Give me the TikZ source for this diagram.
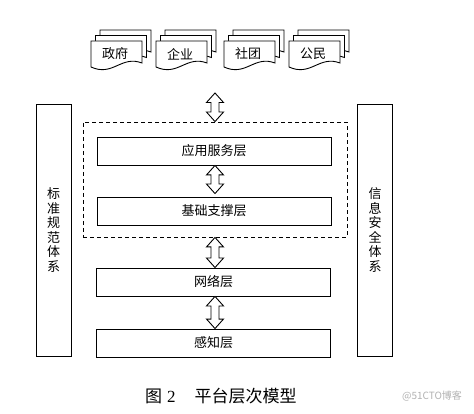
\documentclass[tikz,border=0pt]{standalone}
\usepackage{fontspec}
\setmainfont{Liberation Serif}
\newfontfamily\cjk{Noto Sans CJK SC}
\usetikzlibrary{calc}
\tikzset{
  box/.style={draw, line width=0.9pt, fill=white, inner sep=0pt, font=\cjk\fontsize{13}{15}\selectfont},
  layerbox/.style={box, minimum width=234pt, minimum height=28pt},
  sidebox/.style={box, minimum width=35pt, minimum height=252pt, align=center, font=\cjk\fontsize{13}{14.5}\selectfont},
  dashbox/.style={draw, line width=0.9pt, dash pattern=on 4pt off 3pt, minimum width=264pt, minimum height=115pt, inner sep=0pt},
  docline/.style={draw, line width=0.9pt, fill=white},
  harrow/.style={draw, line width=0.9pt, fill=white, line join=miter},
  doctext/.style={font=\cjk\fontsize{13}{15}\selectfont, inner sep=0pt}
}
\newcommand\docpiece[2]{%
  \path[docline] (#1,#2) -- (#1+51,#2) -- (#1+51,#2+22)
    .. controls (#1+30,#2+14) and (#1+22,#2+36) .. (#1,#2+26) -- cycle;}
\newcommand\docstack[4]{% x0, y0, name, text
  \docpiece{#1+9}{#2-11}
  \docpiece{#1+4.5}{#2-5.5}
  \docpiece{#1}{#2}
  \node[doctext] (#3) at (#1+24,#2+13) {#4};}
\newcommand\hollowarrow[2]{%
  \path[harrow] let \p1=#1, \p2=#2 in
   (\x1,\y1) -- (\x1+8.5pt,\y1-9.5pt) -- (\x1+4pt,\y1-9.5pt) -- (\x1+4pt,\y2+9.5pt)
   -- (\x1+8.5pt,\y2+9.5pt) -- (\x1,\y2) -- (\x1-8.5pt,\y2+9.5pt) -- (\x1-4pt,\y2+9.5pt)
   -- (\x1-4pt,\y1-9.5pt) -- (\x1-8.5pt,\y1-9.5pt) -- cycle;}
\begin{document}
\begin{tikzpicture}[x=1pt,y=-1pt]
\useasboundingbox[fill=white] (0,0) rectangle (474,414);
% documents
\docstack{91}{41}{gov}{政府}
\docstack{156}{41}{ent}{企业}
\docstack{224}{41}{soc}{社团}
\docstack{289}{41}{cit}{公民}
% dashed group
\node[dashbox] (grp) at (215,179.5) {};
\node[layerbox] (app) at (214,151) {应用服务层};
\node[layerbox] (base) at (214,211) {基础支撑层};
\node[layerbox] (net) at (213.5,282) {网络层};
\node[layerbox] (sense) at (213.5,343) {感知层};
% side boxes
\node[sidebox] (std) at (53.5,230) {标\\准\\规\\范\\体\\系};
\node[sidebox] (sec) at (375,230) {信\\息\\安\\全\\体\\系};
% arrows
\coordinate (top) at (215,93);
\hollowarrow{(top)}{(grp.north)}
\hollowarrow{($(app.south)+(1,0)$)}{($(base.north)+(1,-3)$)}
\hollowarrow{($(grp.south)$)}{($(net.north)+(1.5,0)$)}
\hollowarrow{($(net.south)+(1.5,0)$)}{($(sense.north)+(1.5,0)$)}
% caption
\node[font=\fontsize{17}{19}\selectfont, inner sep=0pt, anchor=west] (cap) at (145,396) {{\cjk 图}\hspace{5pt}2\hspace{19pt}{\cjk 平台层次模型}};
\node[font=\cjk\fontsize{10}{12}\selectfont, text=black!30, inner sep=0pt] (wm) at (432,396) {@51CTO博客};
\end{tikzpicture}
\end{document}
